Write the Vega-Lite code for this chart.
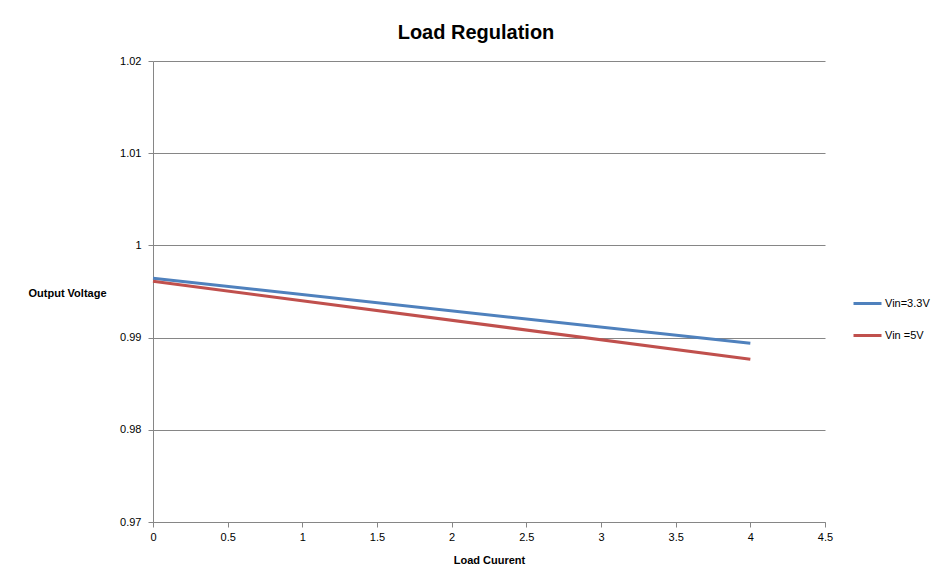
{
  "$schema": "https://vega.github.io/schema/vega-lite/v6.json",
  "autosize": {"type": "none"},
  "padding": {"left": 153, "top": 61, "right": 122, "bottom": 63},
  "width": 672,
  "height": 461,
  "background": "white",
  "config": {
    "font": "Liberation Sans",
    "view": {"stroke": null}
  },
  "title": {
    "text": "Load Regulation",
    "fontSize": 20,
    "fontWeight": "bold",
    "color": "black",
    "anchor": "middle",
    "dx": -13,
    "offset": 12
  },
  "data": {
    "values": [
      {"load": 0, "vout": 0.99643, "series": "Vin=3.3V"},
      {"load": 4, "vout": 0.98938, "series": "Vin=3.3V"},
      {"load": 0, "vout": 0.99611, "series": "Vin =5V"},
      {"load": 4, "vout": 0.98765, "series": "Vin =5V"}
    ]
  },
  "mark": {"type": "line", "strokeWidth": 3},
  "encoding": {
    "x": {
      "field": "load",
      "type": "quantitative",
      "scale": {"domain": [0, 4.5], "nice": false, "zero": false},
      "axis": {
        "title": "Load Cuurent",
        "titleFontSize": 11,
        "titleFontWeight": "bold",
        "titleColor": "black",
        "titlePadding": 12,
        "values": [0, 0.5, 1, 1.5, 2, 2.5, 3, 3.5, 4, 4.5],
        "labelExpr": "datum.value",
        "labelFlush": false,
        "grid": false,
        "domainColor": "#868686",
        "tickColor": "#868686",
        "tickSize": 5,
        "labelFontSize": 11,
        "labelColor": "black",
        "labelPadding": 4
      }
    },
    "y": {
      "field": "vout",
      "type": "quantitative",
      "scale": {"domain": [0.97, 1.02], "nice": false, "zero": false},
      "axis": {
        "title": "Output Voltage",
        "titleAngle": 0,
        "titleAlign": "left",
        "titleBaseline": "middle",
        "titleX": -125,
        "titleY": 232,
        "titleFontSize": 11,
        "titleFontWeight": "bold",
        "titleColor": "black",
        "values": [0.97, 0.98, 0.99, 1, 1.01, 1.02],
        "labelExpr": "datum.value",
        "labelFlush": false,
        "grid": true,
        "gridColor": "#868686",
        "gridWidth": 1,
        "domainColor": "#868686",
        "tickColor": "#868686",
        "tickSize": 5,
        "labelFontSize": 11,
        "labelColor": "black",
        "labelPadding": 7
      }
    },
    "color": {
      "field": "series",
      "type": "nominal",
      "sort": ["Vin=3.3V", "Vin =5V"],
      "scale": {"domain": ["Vin=3.3V", "Vin =5V"], "range": ["#4F81BD", "#C0504D"]},
      "legend": {
        "title": null,
        "orient": "none",
        "legendX": 699,
        "legendY": 227,
        "symbolType": "stroke",
        "symbolSize": 784,
        "symbolStrokeWidth": 3,
        "labelFontSize": 11,
        "labelColor": "black",
        "rowPadding": 10,
        "labelOffset": 2
      }
    }
  }
}
